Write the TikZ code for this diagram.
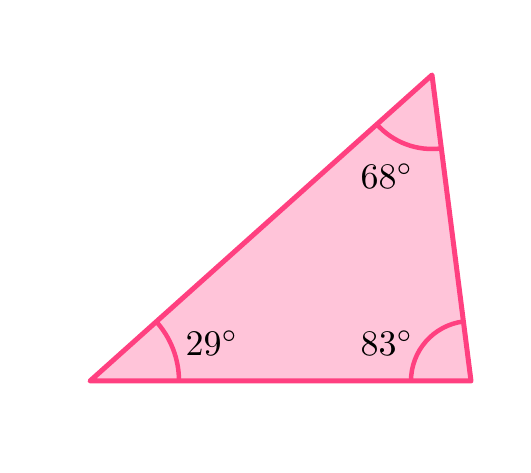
\documentclass[tikz,border=0pt]{standalone}
\usetikzlibrary{angles}
\definecolor{pkline}{RGB}{255,64,128}
\definecolor{pkfill}{RGB}{255,196,217}
\begin{document}
\begin{tikzpicture}[x=1pt,y=1pt,
  side/.style={draw=pkline,fill=pkfill,line width=5pt,line join=round},
  arcmark/.style={draw=pkline,line width=4.5pt},
  lbl/.style={scale=3.6,inner sep=0pt}]
\useasboundingbox (0,0) rectangle (531,473);
\coordinate (A) at (90,92);
\coordinate (B) at (471,92);
\coordinate (C) at (432,398);
\path[side] (A) -- (B) -- (C) -- cycle;
\pic[arcmark,angle radius=89pt] {angle=B--A--C};
\pic[arcmark,angle radius=60pt] {angle=C--B--A};
\pic[arcmark,angle radius=74pt] {angle=A--C--B};
\node[lbl] (la) at (212,130) {$29^\circ$};
\node[lbl] (lb) at (387,130) {$83^\circ$};
\node[lbl] (lc) at (387,297) {$68^\circ$};
\end{tikzpicture}
\end{document}
